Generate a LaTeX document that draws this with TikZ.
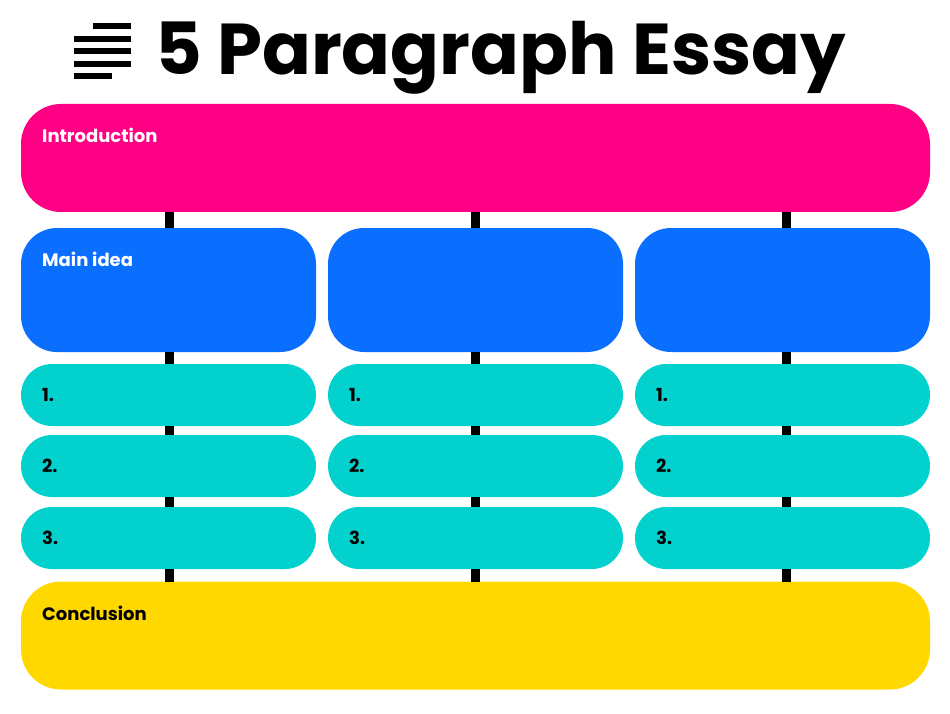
\documentclass[tikz,border=0pt]{standalone}
\usepackage{fontspec}
\setmainfont{Poppins}
\definecolor{cpink}{HTML}{FF0084}
\definecolor{cblue}{HTML}{0A6EFF}
\definecolor{ccyan}{HTML}{03D1CE}
\definecolor{cyell}{HTML}{FFD800}
\tikzset{
  box/.style={inner sep=0pt, outer sep=0pt, draw=none},
  bigbox/.style={box, minimum width=909pt, minimum height=108pt, rounded corners=40pt},
  mainbox/.style={box, fill=cblue, minimum width=295pt, minimum height=124pt, rounded corners=36pt},
  pill/.style={box, fill=ccyan, minimum width=295pt, minimum height=62pt, rounded corners=31pt},
  conn/.style={line width=9pt, black},
  lbl/.style={inner sep=0pt, font=\bfseries\fontsize{18}{21}\selectfont, anchor=base west},
  iconbar/.style={fill=black, draw=none}
}
\begin{document}
\begin{tikzpicture}[x=1pt,y=-1pt]
\useasboundingbox (0,0) rectangle (950,714);
% title icon
\fill[iconbar] (93,23) rectangle (131,29);
\fill[iconbar] (74,36) rectangle (131,42);
\fill[iconbar] (74,48) rectangle (131,54);
\fill[iconbar] (74,61) rectangle (131,67);
\fill[iconbar] (74,73) rectangle (112,79);
\node[inner sep=0pt, anchor=base west, font=\bfseries\fontsize{72}{78}\selectfont] (title) at (155,75) {5 Paragraph Essay};
% boxes
\node[bigbox, fill=cpink] (intro) at (475.5,158) {};
\node[bigbox, fill=cyell] (concl) at (475.5,635.5) {};
\foreach \c/\x in {1/168.5,2/475.5,3/782.5}{
  \node[mainbox] (m\c) at (\x,290) {};
  \node[pill] (a\c) at (\x,395) {};
  \node[pill] (b\c) at (\x,466) {};
  \node[pill] (d\c) at (\x,538) {};
}
% connectors
\coordinate (k1) at (169,0);
\coordinate (k2) at (475,0);
\coordinate (k3) at (786,0);
\foreach \c in {1,2,3}{
  \draw[conn] (intro.south -| k\c) -- (m\c.north -| k\c);
  \draw[conn] (m\c.south -| k\c) -- (a\c.north -| k\c);
  \draw[conn] (a\c.south -| k\c) -- (b\c.north -| k\c);
  \draw[conn] (b\c.south -| k\c) -- (d\c.north -| k\c);
  \draw[conn] (d\c.south -| k\c) -- (concl.north -| k\c);
}
% labels
\node[lbl, white] (tintro) at (42,143) {Introduction};
\node[lbl, white] (tmain) at (42,266) {Main idea};
\foreach \c/\x in {1/42,2/349,3/656}{
  \node[lbl] (ta\c) at (\x,401) {1.};
  \node[lbl] (tb\c) at (\x,472) {2.};
  \node[lbl] (td\c) at (\x,544) {3.};
}
\node[lbl] (tconcl) at (42,620) {Conclusion};
\end{tikzpicture}
\end{document}
